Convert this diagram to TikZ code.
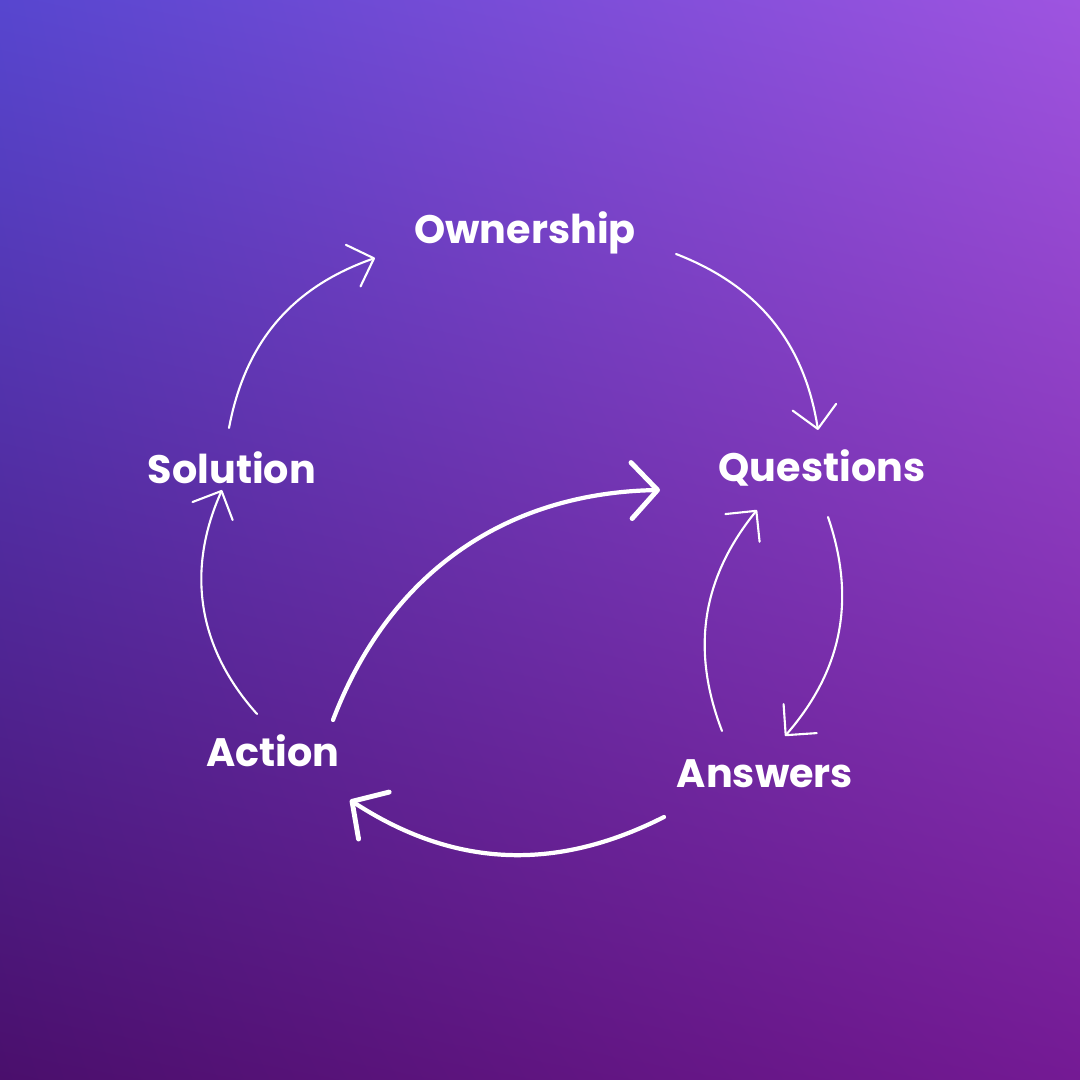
\documentclass[tikz,border=0pt]{standalone}
\usepackage{fontspec}
\setmainfont{Poppins}
\usetikzlibrary{arrows.meta,shadings}
\definecolor{bgTL}{HTML}{5746CF}
\definecolor{bgTR}{HTML}{9E54E0}
\definecolor{bgBL}{HTML}{4A0F6C}
\definecolor{bgBR}{HTML}{741A94}
\tikzset{
  stage/.style={text=white, font=\bfseries\fontsize{11.3}{14}\selectfont, inner sep=0pt},
  flow/.style={white, line width=0.6pt, line cap=round, -{Straight Barb[length=2.2mm,width=4.4mm,round]}, bend left=30},
  bigflow/.style={flow, line width=1.2pt, -{Straight Barb[length=2.6mm,width=5.6mm,line width=1.4pt,round]}}
}
\begin{document}
\begin{tikzpicture}
  % Background
  \shade[upper left=bgTL, upper right=bgTR, lower left=bgBL, lower right=bgBR]
    (0,0) rectangle (10.8,10.8);
  \useasboundingbox (0,0) rectangle (10.8,10.8);

  % Stages of the cycle
  \node[stage] (own) at (5.25,8.47) {Ownership};
  \node[stage] (que) at (8.22,6.12) {Questions};
  \node[stage] (sol) at (2.32,6.12) {Solution};
  \node[stage] (act) at (2.73,3.29) {Action};
  \node[stage] (ans) at (7.65,3.06) {Answers};

  % Connections
  \draw[flow] ([shift={(-0.03,0.4)}]sol.center) to ([shift={(-1.5,-0.25)}]own.center);
  \draw[flow] ([shift={(1.51,-0.21)}]own.center) to ([shift={(-0.04,0.38)}]que.center);
  \draw[flow] ([shift={(0.06,-0.49)}]que.center) to ([shift={(0.2,0.38)}]ans.center);
  \draw[flow] ([shift={(-0.43,0.43)}]ans.center) to ([shift={(-0.65,-0.42)}]que.center);
  \draw[flow, bend left=33] ([shift={(-0.16,0.37)}]act.center) to ([shift={(-0.1,-0.22)}]sol.center);
  \draw[bigflow] ([shift={(-1.01,-0.43)}]ans.center) to ([shift={(0.77,-0.49)}]act.center);
  \draw[bigflow, bend left=34] ([shift={(0.6,0.31)}]act.center) to ([shift={(-1.62,-0.22)}]que.center);
\end{tikzpicture}
\end{document}
